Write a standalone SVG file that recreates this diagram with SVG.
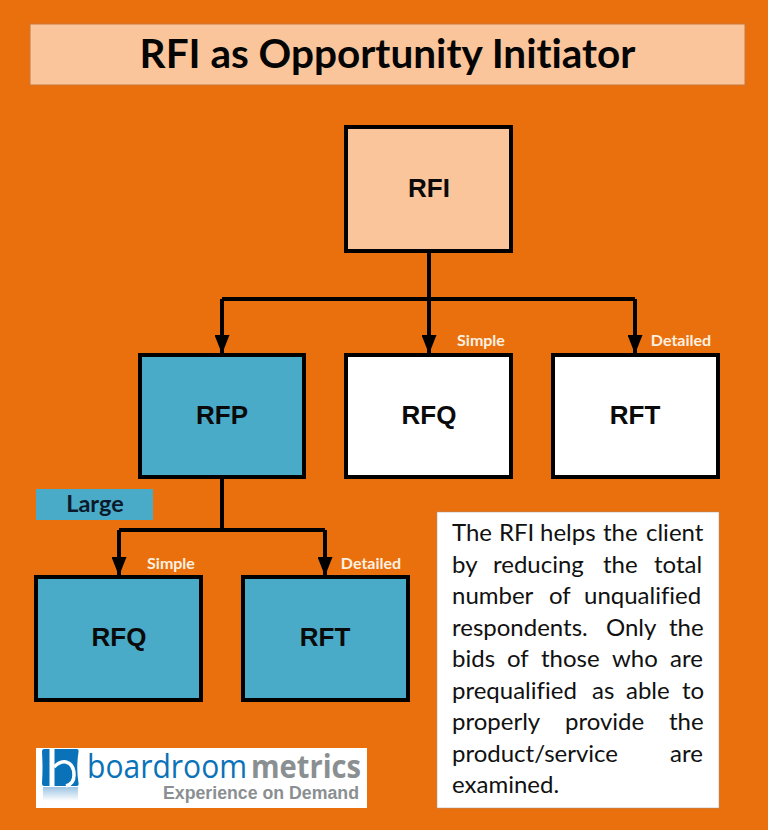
<svg xmlns="http://www.w3.org/2000/svg" width="768" height="830" viewBox="0 0 768 830">
<style>
text{font-family:"Lato","Liberation Sans",sans-serif;font-variant-ligatures:none}
.box{stroke:#000;stroke-width:4}
text.t{font-family:"Liberation Sans",Arial,sans-serif;font-weight:700;font-size:26px;text-anchor:middle;fill:#0a0a0a}
.n{font-weight:700;font-size:16px;fill:#fdf0e0;text-anchor:middle}
.b{font-size:24px;fill:#111}
.c{fill:none;stroke:#000;stroke-width:4;stroke-linejoin:round}
.blue{fill:#4aabc8}
text.lg{font-family:"Open Sans",sans-serif;font-size:33px}
text.tag{font-family:"Liberation Sans",sans-serif;font-size:18px;font-weight:700;fill:#8a8f91}
</style>
<defs><marker id="a" markerUnits="userSpaceOnUse" markerWidth="19" markerHeight="15" refX="19" refY="7.500" orient="auto" viewBox="0 0 19 15"><path d="M0 0L19 7.500L0 15Z" fill="#000"/></marker>
<linearGradient id="r" x1="0" y1="0" x2="0" y2="1"><stop offset="0" stop-color="#9cc4e2"/><stop offset="1" stop-color="#fff"/></linearGradient></defs>
<rect width="768" height="830" fill="#ea700e"/>
<g id="title"><rect x="30" y="24" width="715" height="61" fill="#fbc59b" stroke="#c9783a"/><text x="387.500" y="68" font-size="40.500" font-weight="700" text-anchor="middle" fill="#050505">RFI as Opportunity Initiator</text></g>
<g id="connectors">
<path class="c" d="M429 250V299M222 299H635"/>
<path class="c" d="M222 299V354" marker-end="url(#a)"/>
<path class="c" d="M429 299V354" marker-end="url(#a)"/>
<path class="c" d="M635 299V354" marker-end="url(#a)"/>
<path class="c" d="M222 477V530M119 530H325"/>
<path class="c" d="M119 530V576" marker-end="url(#a)"/>
<path class="c" d="M325 530V576" marker-end="url(#a)"/>
</g>
<g id="rfi"><rect class="box" x="346" y="127" width="165" height="124" fill="#fbc59b"/><text class="t" x="429" y="197">RFI</text></g>
<g id="rfp"><rect class="box blue" x="140" y="355" width="164" height="122"/><text class="t" x="222" y="424">RFP</text></g>
<g id="rfq1"><rect class="box" x="346" y="355" width="165" height="122" fill="#fff"/><text class="t" x="429" y="424">RFQ</text></g>
<g id="rft1"><rect class="box" x="553" y="355" width="165" height="122" fill="#fff"/><text class="t" x="635" y="424">RFT</text></g>
<g id="rfq2"><rect class="box blue" x="36" y="577" width="165" height="123"/><text class="t" x="119" y="646">RFQ</text></g>
<g id="rft2"><rect class="box blue" x="243" y="577" width="165" height="123"/><text class="t" x="325" y="646">RFT</text></g>
<g id="large"><rect class="blue" x="36" y="489" width="117" height="31"/><text x="95" y="512" font-size="23.500" font-weight="700" text-anchor="middle" fill="#0a1a2a">Large</text></g>
<g id="labels"><text class="n" x="481" y="346">Simple</text><text class="n" x="681" y="346">Detailed</text><text class="n" x="171" y="569">Simple</text><text class="n" x="371" y="569">Detailed</text></g>
<g id="note"><rect x="437" y="512" width="282" height="296" fill="#fff" stroke="#999" stroke-width="0.5"/>
<text class="b" y="541"><tspan x="452">The</tspan> <tspan x="499">RFI</tspan> <tspan x="540">helps</tspan> <tspan x="603">the</tspan> <tspan x="646">client</tspan></text>
<text class="b" y="573"><tspan x="452">by</tspan> <tspan x="493">reducing</tspan> <tspan x="603">the</tspan> <tspan x="654">total</tspan></text>
<text class="b" y="604"><tspan x="452">number</tspan> <tspan x="549">of</tspan> <tspan x="584">unqualified</tspan></text>
<text class="b" y="636"><tspan x="452">respondents.</tspan> <tspan x="606">Only</tspan> <tspan x="669">the</tspan></text>
<text class="b" y="667"><tspan x="452">bids</tspan> <tspan x="507">of</tspan> <tspan x="541">those</tspan> <tspan x="612">who</tspan> <tspan x="670">are</tspan></text>
<text class="b" y="699"><tspan x="452">prequalified</tspan> <tspan x="592">as</tspan> <tspan x="626">able</tspan> <tspan x="682">to</tspan></text>
<text class="b" y="730"><tspan x="452">properly</tspan> <tspan x="565">provide</tspan> <tspan x="669">the</tspan></text>
<text class="b" y="762"><tspan x="452">product/service</tspan> <tspan x="670">are</tspan></text>
<text class="b" y="793"><tspan x="452">examined.</tspan></text></g>
<g id="logo"><rect x="36" y="748" width="331" height="60" fill="#fff"/>
<rect x="43" y="787" width="35" height="14" fill="url(#r)"/>
<path d="M44 749H77Q79 749 78.500 752Q76 768 78.500 783Q79 786 77 786H44Q42 786 42 783Q43 768 42 752Q42 749 44 749Z" fill="#0a72b8"/>
<rect x="49.500" y="749" width="5" height="37" fill="#fff"/>
<path d="M54 767Q60 761 66 762Q74 764 74 775Q74 784 66 786" fill="none" stroke="#fff" stroke-width="3.500"/>
<text class="lg" x="87" y="778" fill="#0a72b8" textLength="160" lengthAdjust="spacingAndGlyphs">boardroom</text>
<text class="lg" x="251" y="778" fill="#8a8f91" style="font-weight:700" textLength="110" lengthAdjust="spacingAndGlyphs">metrics</text>
<text class="tag" x="163" y="799" textLength="196" lengthAdjust="spacingAndGlyphs">Experience on Demand</text></g>
</svg>
